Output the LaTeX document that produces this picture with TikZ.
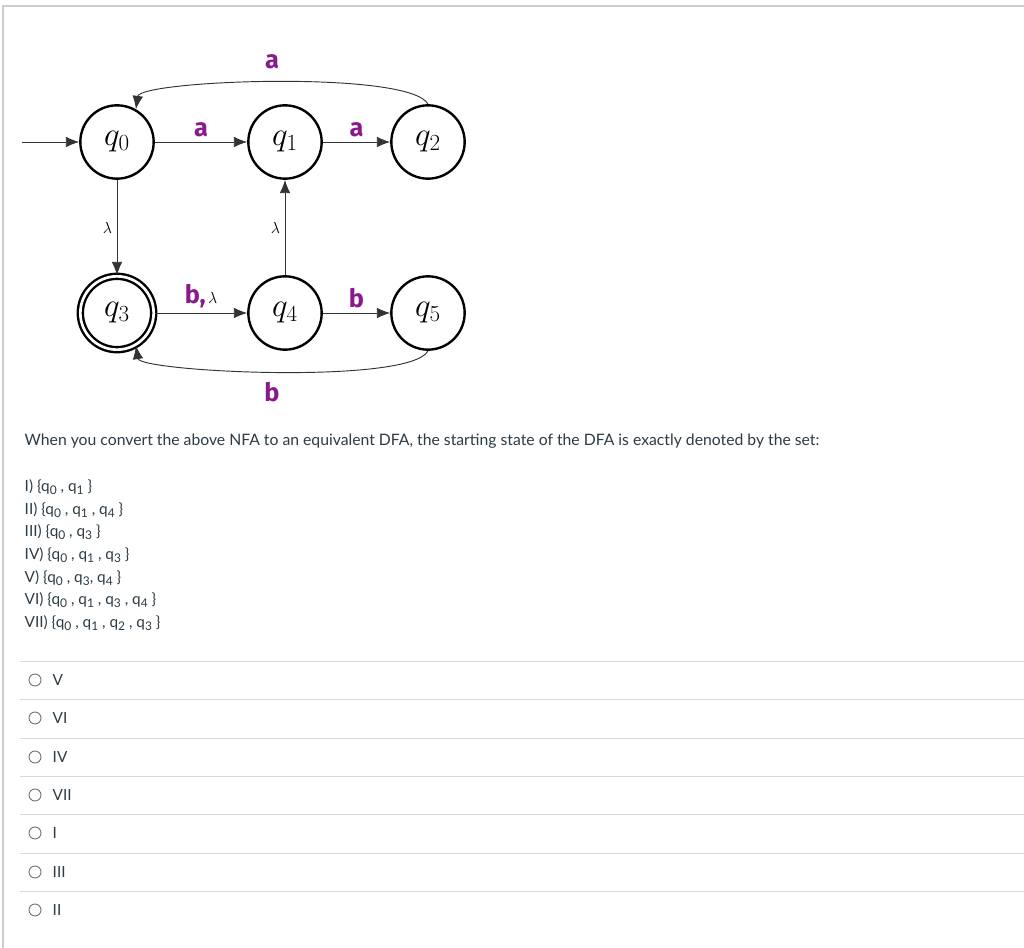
\documentclass[tikz,border=0pt]{standalone}
\usepackage[no-math]{fontspec}
\setmainfont{Lato}
\newfontfamily\lblfont{Fira Sans}
\usetikzlibrary{arrows.meta}
\definecolor{lblc}{HTML}{8A1A8C}
\definecolor{txt}{HTML}{2D3B45}
\newcommand{\qs}[1]{q\raisebox{-0.35ex}{\fontsize{9}{9}\selectfont #1}}
\begin{document}
\begin{tikzpicture}[x=0.75pt,y=-0.75pt,
 st/.style={circle,draw,line width=1.8pt,minimum size=55pt,inner sep=0pt,font=\fontsize{26}{26}\selectfont},
 edge/.style={draw=black!80,line width=0.7pt,-{Latex[length=10pt,width=8pt]}},
 lbl/.style={text=lblc,font=\lblfont\bfseries\fontsize{19}{19}\selectfont},
 lam/.style={font=\fontsize{12}{12}\selectfont},
 opt/.style={text=txt,font=\fontsize{11.5}{13}\selectfont,anchor=west},
 sep/.style={draw=black!15,line width=0.6pt}]
\useasboundingbox (0,0) rectangle (1024,948);
\fill[white] (0,0) rectangle (1024,948);
\draw[black!20,line width=0.8pt] (3,948) -- (3,6) -- (1024,6);
\node[st] (q0) at (117,142) {$q_0$};
\node[st] (q1) at (285,142) {$q_1$};
\node[st] (q2) at (428,142) {$q_2$};
\node[st,double,double distance=2pt] (q3) at (117,313) {$q_3$};
\node[st] (q4) at (285,313) {$q_4$};
\node[st] (q5) at (428,313) {$q_5$};
\coordinate (s) at (22,142);
\draw[edge] (s) -- (q0);
\draw[edge] (q0) -- node[lbl,above]{a} (q1);
\draw[edge] (q1.east) -- node[lbl,above]{a} (q2.west);
\draw[edge] (q0) -- node[lam,left,pos=0.5]{$\lambda$} (q3);
\draw[edge] (q4) -- node[lam,left,pos=0.5]{$\lambda$} (q1);
\draw[edge] (q3) -- node[above]{\textcolor{lblc}{\lblfont\bfseries\fontsize{19}{19}\selectfont b,}\,{\fontsize{12}{12}\selectfont$\lambda$}} (q4);
\draw[edge] (q4) -- node[lbl,above]{b} (q5);
\draw[edge] (q2.north) .. controls (410,70) and (140,80) .. (q0.60);
\node[lbl] at (272,62) {a};
\draw[edge] (q5.south) .. controls (410,385) and (140,372) .. (q3.-60);
\node[lbl] at (272,392) {b};
\node[text=txt,font=\fontsize{11.8}{13}\selectfont,anchor=west] at (20,441) {When you convert the above NFA to an equivalent DFA, the starting state of the DFA is exactly denoted by the set:};
\node[opt] at (20,487) {I) \{\qs0 , \qs1 \}};
\node[opt] at (20,510) {II) \{\qs0 , \qs1 , \qs4 \}};
\node[opt] at (20,532) {III) \{\qs0 , \qs3 \}};
\node[opt] at (20,555) {IV) \{\qs0 , \qs1 , \qs3 \}};
\node[opt] at (20,578) {V) \{\qs0 , \qs3, \qs4 \}};
\node[opt] at (20,600) {VI) \{\qs0 , \qs1 , \qs3 , \qs4 \}};
\node[opt] at (20,623) {VII) \{\qs0 , \qs1 , \qs2 , \qs3 \}};
\foreach \y in {661,699,738,776,814,853,891} \draw[sep] (20,\y) -- (1024,\y);
\foreach \y/\t in {680/V,718/VI,757/IV,795/VII,833/I,872/III,910/II}{
 \draw[black!55,line width=0.7pt] (35,\y) circle (6);
 \node[opt] at (48,\y) {\t};}
\end{tikzpicture}
\end{document}
